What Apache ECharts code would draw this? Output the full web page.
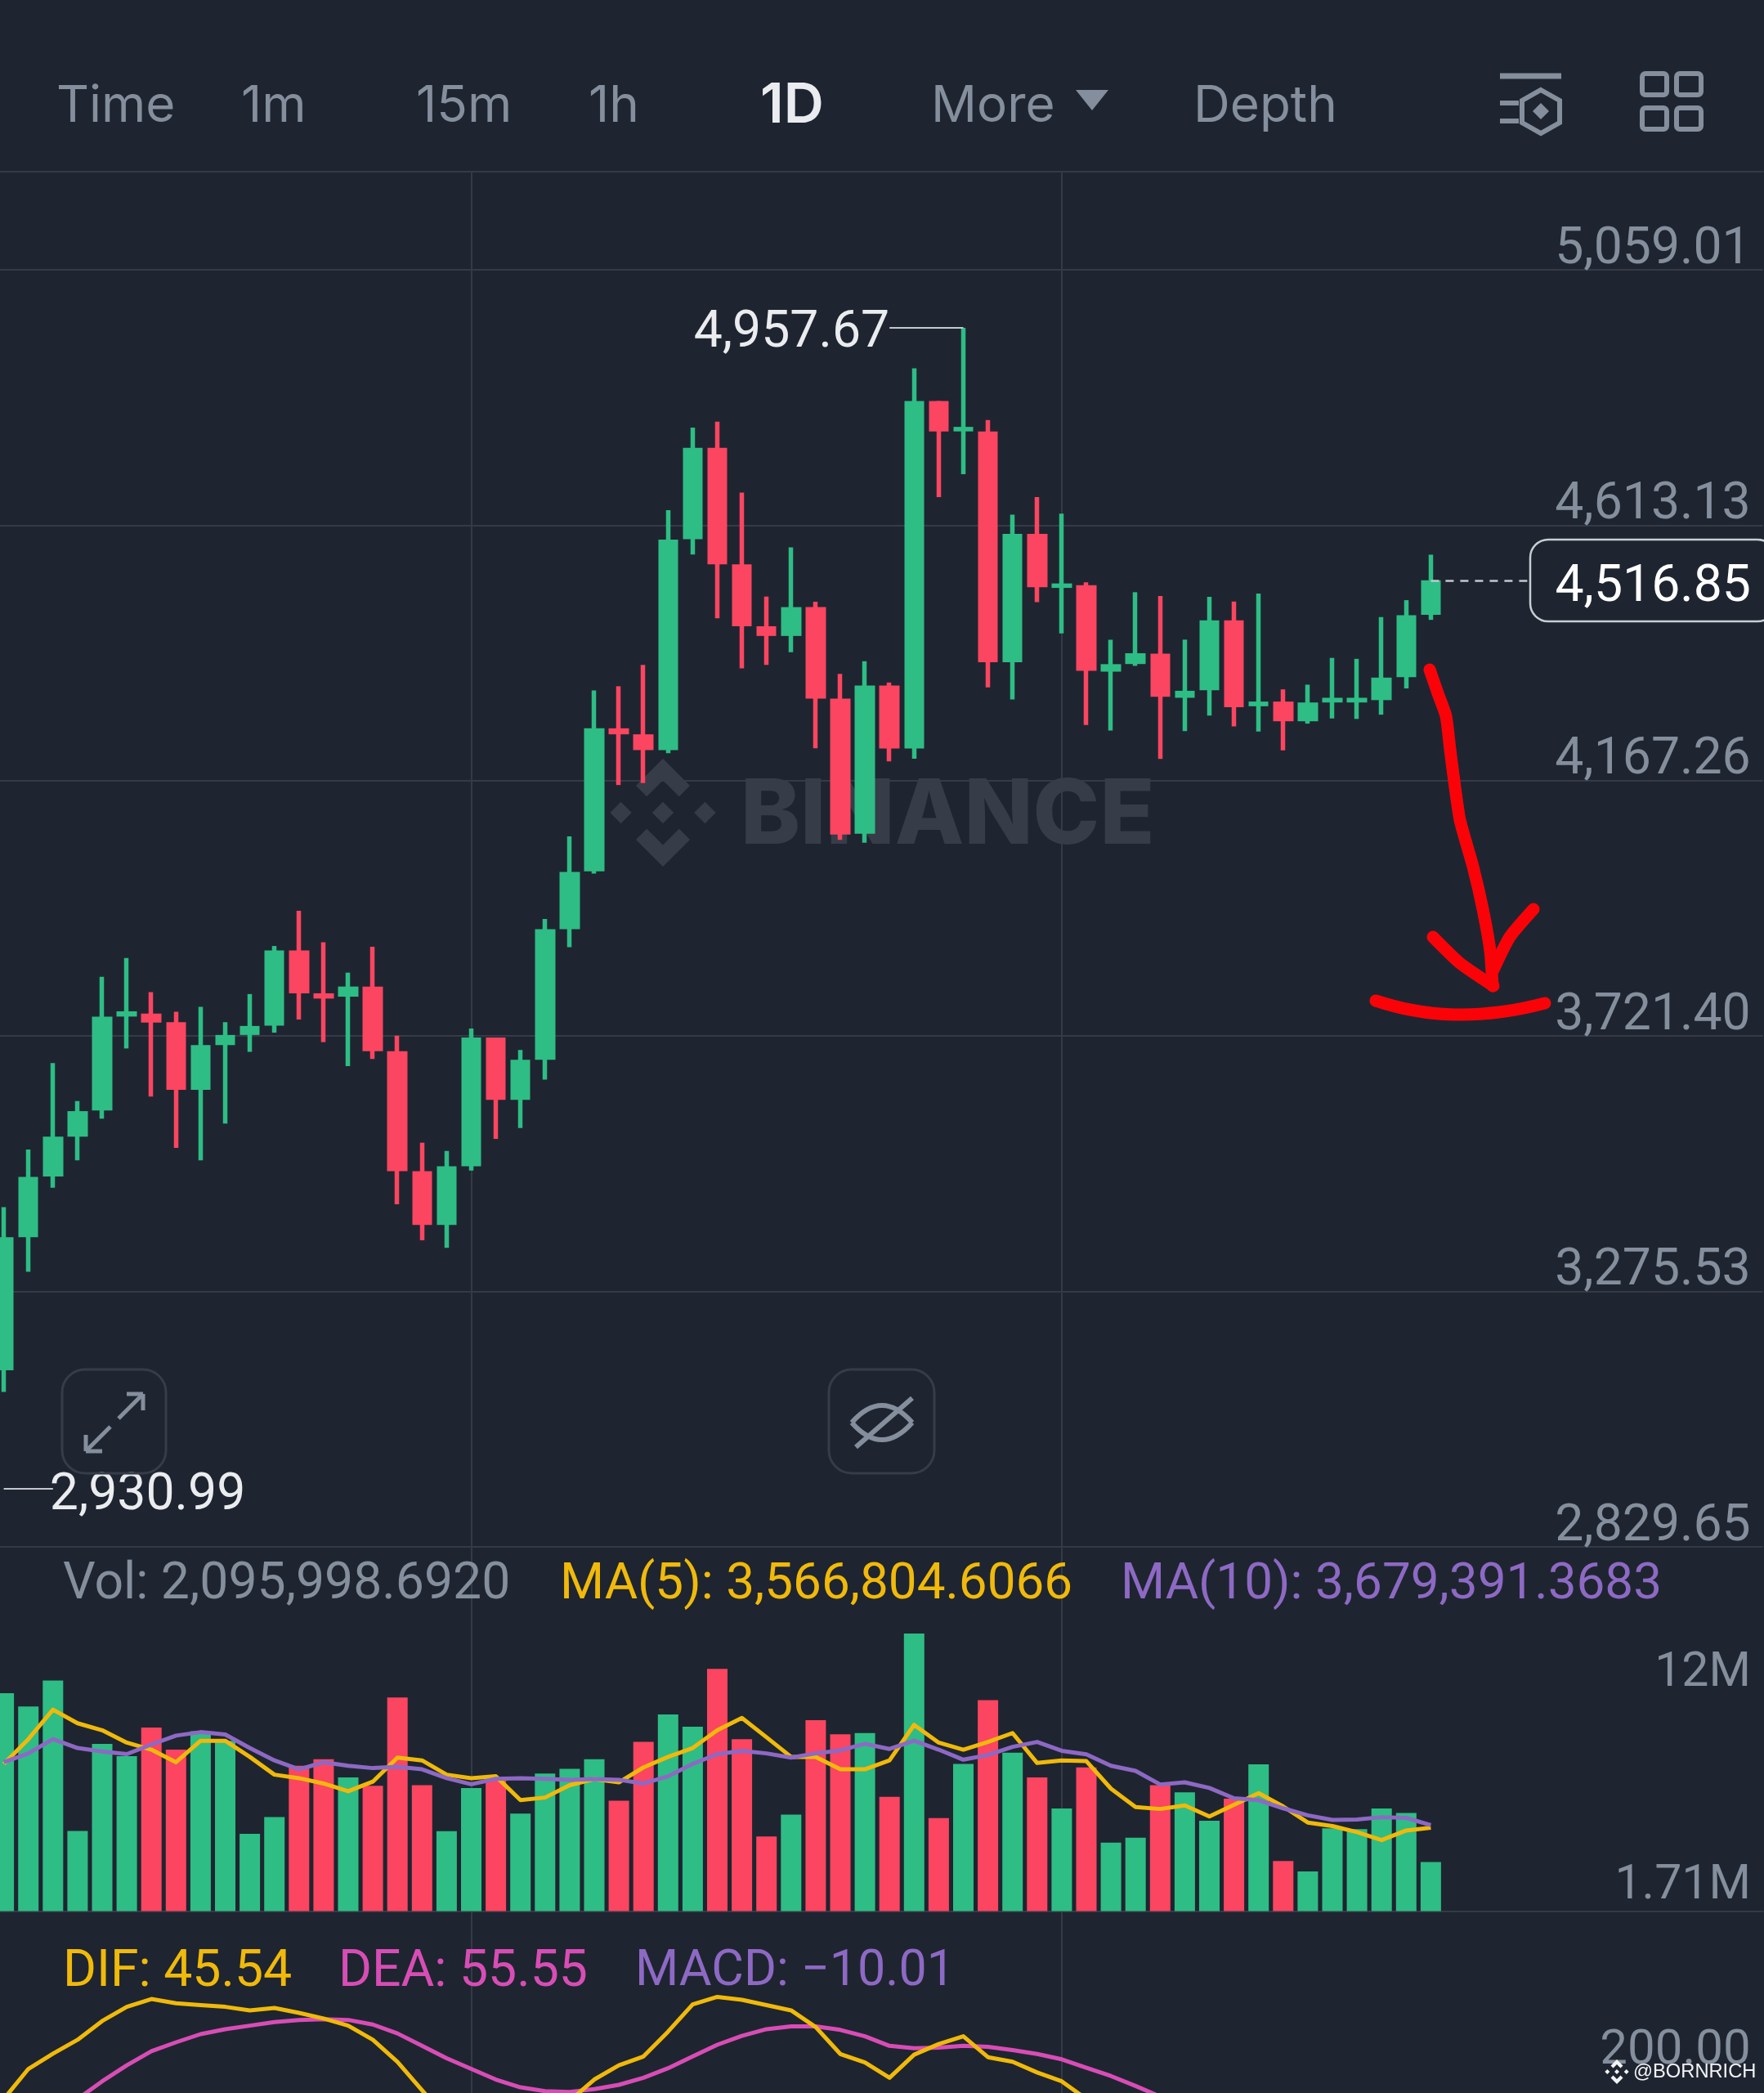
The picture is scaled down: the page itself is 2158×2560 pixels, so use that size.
<!DOCTYPE html>
<html>
<head>
<meta charset="utf-8">
<style>html,body{margin:0;padding:0;background:#1E2530}#c{width:2158px;height:2560px}</style>
<script src="https://cdn.jsdelivr.net/npm/echarts@6/dist/echarts.min.js"></script>
</head>
<body>
<div id="c"></div>
<script>
// ---------- chart values ----------
const opens = [3138.1,3370.1,3476.2,3545.7,3591.6,3755.4,3760.6,3745.6,3627.6,3705.6,3723.3,3739.7,3870.7,3796,3790.1,3807.8,3695.1,3485.4,3391.7,3493.9,3718.7,3609.9,3680,3908.1,4008.9,4258.6,4248.1,4220.6,4588.9,4748.1,4545,4436.8,4419.8,4470.2,4310.4,4074.4,4333.3,4223.2,4830,4776.9,4776.9,4373.9,4598,4503.7,4508.3,4357.5,4370.8,4388.9,4311.9,4325,4447,4297.1,4305.3,4270.9,4303.7,4303.7,4307.8,4347.9,4456.9];
const closes = [3370.1,3475.6,3545.7,3590.3,3755.4,3764.6,3744.9,3627.6,3705.6,3723.3,3739,3870.7,3796,3786.8,3807.8,3695.1,3485.4,3391.7,3493.9,3718.7,3609.9,3680,3908.1,4007.7,4258.6,4248.1,4220.6,4588.2,4748.1,4545,4436.8,4419.8,4470.2,4310.4,4073.1,4333.3,4223.2,4830,4776.9,4784.8,4373.9,4598,4505,4511.5,4358.8,4370.6,4389.7,4313.5,4324.1,4447,4295.5,4305.3,4270.9,4303.7,4311.9,4311.9,4347.1,4456.1,4516.85];
const lows = [3100.1,3309.8,3456.6,3504.4,3577.1,3699.7,3615.8,3526,3504.4,3568.6,3693.8,3727.2,3750.1,3710.8,3668.9,3681.3,3427.7,3364.8,3351.7,3486.7,3541.8,3560.8,3645.3,3876.6,4005,4159.6,4162.9,4215.3,4562,4450.6,4363.4,4369.3,4391.6,4223.8,4064,4058.7,4200.9,4205.5,4662.2,4702.2,4330,4309.1,4478.8,4424.4,4264.5,4254.7,4367.6,4205.3,4253.7,4280.7,4261.9,4252.9,4220.1,4266.8,4275.8,4275,4282.4,4328.2,4447.9];
const highs = [3422.5,3523.4,3674.1,3607.9,3824.9,3857.6,3798,3763.9,3772.4,3745.6,3794.7,3878.6,3940.2,3885.1,3832.1,3877.3,3722,3535.2,3520.8,3734.4,3718.7,3697.1,3925.8,4069.9,4324.8,4332,4369.3,4639.3,4783.5,4794,4670.1,4488.6,4574.4,4479.4,4353.6,4375.9,4338.5,4887,4830,4957.67,4796.6,4631.4,4662.2,4633.4,4513.5,4413.2,4496.2,4489.6,4413.4,4488,4479.8,4493.7,4326.6,4334.8,4381.5,4379.9,4452.8,4482.3,4561.7];
const volumesM = [9.33,8.76,9.87,3.43,7.16,6.63,7.86,6.91,7.70,7.29,3.31,4.02,6.22,6.50,5.72,5.36,9.14,5.39,3.42,5.27,5.69,4.17,5.89,6.09,6.50,4.72,7.24,8.42,7.89,10.37,7.36,3.19,4.13,8.17,7.57,7.62,4.89,11.88,3.98,6.30,9.03,6.78,5.72,4.39,6.15,2.93,3.14,5.39,5.08,3.87,4.81,6.28,2.14,1.70,3.54,3.51,4.39,4.20,2.095999];
const volMa5M = [6.30,7.36,8.62,8.04,7.74,7.21,6.91,6.37,7.29,7.29,6.60,5.84,5.69,5.46,5.13,5.54,6.57,6.45,5.84,5.69,5.77,4.75,4.86,5.39,5.65,5.51,6.15,6.60,6.98,7.74,8.27,7.44,6.60,6.60,6.07,6.07,6.45,7.97,7.21,6.91,7.24,7.62,6.34,6.45,6.42,5.24,4.45,4.37,4.52,4.05,4.55,5.05,4.48,3.79,3.64,3.38,3.04,3.45,3.566805];
const volMa10M = [6.37,6.75,7.36,6.98,6.83,6.72,7.13,7.51,7.66,7.56,6.98,6.45,6.07,6.37,6.22,6.12,6.18,6.07,5.69,5.43,5.66,5.69,5.66,5.62,5.65,5.62,5.46,5.77,6.30,6.72,6.86,6.75,6.57,6.75,6.88,7.16,6.94,7.29,6.91,6.48,6.68,7.03,7.24,6.86,6.71,6.22,6.00,5.42,5.51,5.27,4.83,4.75,4.40,4.10,3.90,3.92,4.02,3.99,3.679391];
const dif = [140.9,196.2,224.2,249.6,284.1,310.1,324.4,316.6,313.3,310.1,303.6,308.1,299,288.6,275.6,249.6,209.3,157.2,105.2,66.1,49.9,53.1,92.2,137.7,176.7,202.8,219,264.6,314.6,328.3,323.1,313.3,303.6,273,223.6,208,180,222.3,241.8,256.1,217.7,209.3,189.7,173.5,140.9,105.2,79.2,53.1,33.6,17.4,7.6,7.6,10.8,17.4,23.8,30.4,36.9,43.4,45.54];
const dea = [66.1,88.9,114.9,140.9,173.5,202.8,228.8,245,260,269.1,275.6,282.1,286,287.3,286,277.6,261.3,238.5,215.8,196.2,176.7,162.4,155.3,154,159.2,167,180,197.5,219,240.5,256.7,269.1,274.3,274.3,267.8,256.1,238.5,234,235.3,238.5,236.6,230.7,223.6,213.8,198.2,183.2,165,145.5,127.9,111.7,98.7,88.9,79.2,72.7,67.5,62.9,59.6,57,55.55];
const priceTicks = [5059.01,4613.13,4167.26,3721.40,3275.53,2829.65];
const periodTabs = ['Time','1m','15m','1h','1D','More','Depth'];
const volumeTickLabels = ['12M','1.71M'];
const macdTickLabel = '200.00';
const lastPrice = 4516.85, peakPrice = 4957.67, troughPrice = 2930.99;
const slotCount = 72;
const gridLineSlots = [19,43];

// ---------- styles ----------
const BG='#1E2530', UP='#2EBD85', DOWN='#FC4560', GRIDC='#343B47', GREY='#848E9C', LIGHT='#EAECEF';
const YEL='#F0B90B', PUR='#8D69C4', MAG='#D84DB5', FONT='Inter, "Noto Sans", sans-serif', NUMF='Roboto, "Noto Sans", sans-serif';
const slots = Array.from({length:slotCount},(_,i)=>String(i));
const upAt = i => closes[i] >= opens[i];
const fmt = v => v.toLocaleString('en-US',{minimumFractionDigits:2,maximumFractionDigits:2});

const GL = -10.45, GW = 2167.2;
function xAxisFor(gridIndex, line, pos){
  return {type:'category',gridIndex,data:slots,position:pos,boundaryGap:true,
    axisLabel:{show:false},axisTick:{show:false},
    axisLine:{show:line,onZero:false,lineStyle:{color:GRIDC,width:2}},
    splitLine:{show:true,alignWithLabel:true,interval:(i)=>gridLineSlots.includes(i),lineStyle:{color:GRIDC,width:2}}};
}

// ---------- graphic helpers (page furniture, not data) ----------
function tx(x,y,text,fill,size,align,weight,family){
  return {type:'text',z:100,x,y,style:{text,fill,font:`${weight||400} ${size}px ${family||NUMF}`,textAlign:align||'left',textVerticalAlign:'middle'}};
}
function logo(cx,cy,s,fill,z){
  const P=a=>a.map(p=>[cx+p[0]*s,cy+p[1]*s]);
  const d=(ox,oy)=>P([[ox,oy-0.2],[ox+0.2,oy],[ox,oy+0.2],[ox-0.2,oy]]);
  const top=[[0,-1],[0.5,-0.5],[0.3,-0.3],[0,-0.6],[-0.3,-0.3],[-0.5,-0.5]];
  const polys=[d(0,0),d(-0.78,0),d(0.78,0),P(top),P(top.map(p=>[p[0],-p[1]]))];
  return polys.map(points=>({type:'polygon',z,shape:{points},style:{fill}}));
}
const stroke=(pts,smooth)=>({type:'polyline',z:90,shape:{points:pts,smooth:smooth||0},style:{stroke:'#FA0308',lineWidth:15,lineCap:'round',lineJoin:'round',fill:null}});
const iconLine={stroke:GREY,lineWidth:6,fill:null};
const rr=(x,y,w,h,r,style,z)=>({type:'rect',z:z||80,shape:{x,y,width:w,height:h,r},style});
const ln=(x1,y1,x2,y2,style)=>({type:'line',z:80,shape:{x1,y1,x2,y2},style});

const tabX=[69,295,509,720,930,1139,1460];
const graphics=[
  ...periodTabs.map((t,i)=>tx(tabX[i],130,t,t==='1D'?LIGHT:GREY,t==='1D'?68:62,'left',t==='1D'?600:400,FONT)),
  {type:'polygon',z:80,shape:{points:[[1316,110],[1356,110],[1336,135]]},style:{fill:GREY}},
  // indicator icon
  ln(1835,93,1910,93,{stroke:GREY,lineWidth:7}),
  ln(1835,126,1858,126,{stroke:GREY,lineWidth:6}),
  ln(1835,148,1858,148,{stroke:GREY,lineWidth:6}),
  {type:'polygon',z:80,shape:{points:[[1885,110],[1908,123],[1908,150],[1885,163],[1862,150],[1862,123]]},style:iconLine},
  {type:'polygon',z:80,shape:{points:[[1885,126],[1895,136],[1885,146],[1875,136]]},style:{fill:GREY}},
  // layout icon
  rr(2009,90,30,26,4,iconLine),rr(2051,90,30,26,4,iconLine),rr(2009,132,30,26,4,iconLine),rr(2051,132,30,26,4,iconLine),
  // watermark
  ...logo(811,994,66,'#363D48',1),
  {type:'text',z:1,x:906,y:999,style:{text:'BINANCE',fill:'#363D48',font:`800 110px ${FONT}`,textVerticalAlign:'middle',textAlign:'left'}},
  // floating buttons
  rr(76,1675,127,127,28,{stroke:'#363D48',lineWidth:3,fill:null}),
  ln(105,1775,135,1745,{stroke:GREY,lineWidth:5}),ln(105,1755,105,1775,{stroke:GREY,lineWidth:5}),ln(105,1775,125,1775,{stroke:GREY,lineWidth:5}),
  ln(145,1735,175,1705,{stroke:GREY,lineWidth:5}),ln(155,1705,175,1705,{stroke:GREY,lineWidth:5}),ln(175,1705,175,1725,{stroke:GREY,lineWidth:5}),
  rr(1014,1675,129,127,28,{stroke:'#363D48',lineWidth:3,fill:null}),
  {type:'bezierCurve',z:80,shape:{x1:1042,y1:1740,x2:1116,y2:1740,cpx1:1079,cpy1:1698},style:{stroke:GREY,lineWidth:6,fill:null}},
  {type:'bezierCurve',z:80,shape:{x1:1042,y1:1740,x2:1116,y2:1740,cpx1:1079,cpy1:1782},style:{stroke:GREY,lineWidth:6,fill:null}},
  ln(1047,1770,1116,1710,{stroke:GREY,lineWidth:6}),
  // last price tag
  rr(1872,660,300,100,22,{stroke:'#C8CDD3',lineWidth:2.5,fill:BG},70),
  tx(2142,719,fmt(lastPrice),'#FFFFFF',62.5,'right',400),
  // volume legend
  tx(77,1939,'Vol: 2,095,998.6920',GREY,62.5),
  tx(685,1939,'MA(5): 3,566,804.6066',YEL,62),
  tx(1371,1939,'MA(10): 3,679,391.3683',PUR,62),
  tx(2142,2047,volumeTickLabels[0],GREY,59,'right'),
  tx(2142,2307,volumeTickLabels[1],GREY,59,'right'),
  // macd legend
  tx(77,2413,'DIF: 45.54',YEL,62.5),
  tx(414,2413,'DEA: 55.55',MAG,62.5),
  tx(777,2413,'MACD: −10.01',PUR,61),
  // source mark
  ...logo(1978,2534,15,'#F2F3F5',110),
  {type:'text',z:110,x:1998,y:2534,style:{text:'@BORNRICH',fill:'#F2F3F5',font:'400 23.7px "Liberation Sans"',textVerticalAlign:'middle'}},
  // red hand-drawn arrow
  stroke([[1749,819],[1759,848],[1769,876],[1774,917],[1780,963],[1786,1003],[1802,1060],[1814,1112],[1823,1163],[1826,1206]],0.2),
  stroke([[1753,1146],[1786,1178],[1827,1206]],0.2),
  stroke([[1876,1112],[1847,1146],[1827,1186]],0.2),
  stroke([[1683,1224],[1725,1235],[1780,1241],[1841,1237],[1890,1227]],0.4)
];

const chart=echarts.init(document.getElementById('c'),null,{renderer:'canvas'});
chart.setOption({
  backgroundColor:BG,
  animation:false,
  grid:[
    {left:GL,width:GW,top:210,height:1682,outerBoundsMode:'none'},
    {left:GL,width:GW,top:1892,height:445.5,outerBoundsMode:'none'},
    {left:GL,width:GW,top:2337.5,height:222.5,outerBoundsMode:'none'}
  ],
  xAxis:[xAxisFor(0,true,'top'),xAxisFor(1,true,'bottom'),xAxisFor(2,false,'bottom')],
  yAxis:[
    {type:'value',gridIndex:0,position:'right',min:2829.65,max:5230.3,
      axisLine:{show:false},
      axisTick:{show:false,customValues:priceTicks},
      splitLine:{show:true,lineStyle:{color:GRIDC,width:2}},
      axisLabel:{inside:true,customValues:priceTicks,formatter:v=>fmt(v),color:GREY,fontFamily:NUMF,fontSize:62.5,
        margin:15,verticalAlign:'bottom',lineHeight:48,padding:0,showMinLabel:true,showMaxLabel:true}},
    {type:'value',gridIndex:1,position:'right',min:0,max:15.59,axisLine:{show:false},axisTick:{show:false},splitLine:{show:false},axisLabel:{show:false}},
    {type:'value',gridIndex:2,position:'right',min:152,max:485.75,
      axisLine:{show:false},axisTick:{show:false,customValues:[200]},splitLine:{show:false},
      axisLabel:{inside:true,customValues:[200],formatter:()=>macdTickLabel,color:GREY,fontFamily:NUMF,fontSize:60,margin:15,verticalAlign:'bottom',lineHeight:38}}
  ],
  graphic:graphics,
  series:[
    {name:'wick',type:'candlestick',xAxisIndex:0,yAxisIndex:0,barWidth:1,silent:true,z:3,
      data:opens.map((o,i)=>[o,closes[i],lows[i],highs[i]]),
      itemStyle:{color:UP,color0:DOWN,borderColor:UP,borderColor0:DOWN,borderWidth:5.5},
      markLine:{silent:true,symbol:'none',animation:false,
        data:[
          [{coord:[39,peakPrice],lineStyle:{color:'#C4C8CE',width:2,type:'solid'},label:{show:true,position:'end',formatter:fmt(peakPrice),color:LIGHT,fontFamily:NUMF,fontSize:62.5,distance:2,offset:[2,7]}},{coord:[36,peakPrice]}],
          [{coord:[0,troughPrice],lineStyle:{color:'#C4C8CE',width:2,type:'solid'},label:{show:true,position:'end',formatter:fmt(troughPrice),color:LIGHT,fontFamily:NUMF,fontSize:62.5,distance:0,offset:[-4,9]}},{coord:[2,troughPrice]}],
          [{coord:[58,lastPrice],lineStyle:{color:'#C4C8CE',width:2.5,type:[10,8]},label:{show:false}},{coord:[62,lastPrice]}]
        ]}},
    {name:'body',type:'candlestick',xAxisIndex:0,yAxisIndex:0,barWidth:25,silent:true,z:4,
      data:opens.map((o,i)=>[o,closes[i],Math.min(o,closes[i]),Math.max(o,closes[i])]),
      itemStyle:{color:UP,color0:DOWN,borderColor:UP,borderColor0:DOWN,borderWidth:0}},
    {name:'Vol',type:'bar',xAxisIndex:1,yAxisIndex:1,barWidth:25,silent:true,z:3,
      data:volumesM.map((v,i)=>({value:v,itemStyle:{color:upAt(i)?UP:DOWN}}))},
    {name:'MA(5)',type:'line',xAxisIndex:1,yAxisIndex:1,data:volMa5M,symbol:'none',silent:true,z:5,lineStyle:{color:YEL,width:5,join:'round'}},
    {name:'MA(10)',type:'line',xAxisIndex:1,yAxisIndex:1,data:volMa10M,symbol:'none',silent:true,z:6,lineStyle:{color:PUR,width:5,join:'round'}},
    {name:'DIF',type:'line',xAxisIndex:2,yAxisIndex:2,data:dif,symbol:'none',silent:true,z:6,lineStyle:{color:YEL,width:5,join:'round'}},
    {name:'DEA',type:'line',xAxisIndex:2,yAxisIndex:2,data:dea,symbol:'none',silent:true,z:5,lineStyle:{color:MAG,width:5,join:'round'}}
  ]
});
</script>
</body>
</html>
